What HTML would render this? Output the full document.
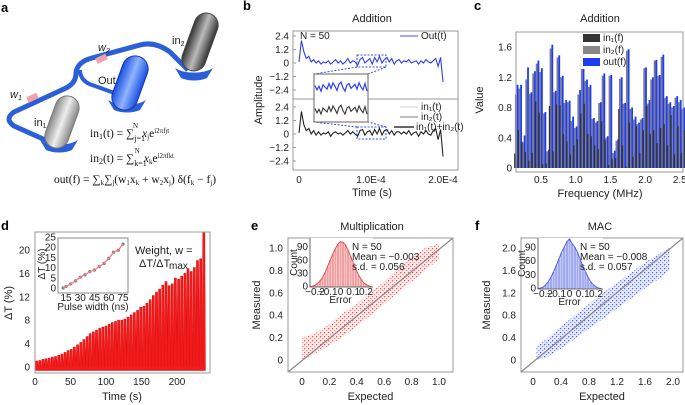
<!DOCTYPE html>
<html><head><meta charset="utf-8"><style>
html,body{margin:0;padding:0;background:#fff}
svg{display:block;font-family:"Liberation Sans",sans-serif}
.t{font-size:10px;fill:#222}
.lab{font-size:11px;fill:#222}
.pl{font-size:13px;font-weight:bold;fill:#000}
.eq{font-family:"Liberation Serif",serif;font-size:11.5px;fill:#111}
</style></head><body>
<svg id="fig" width="685" height="405" viewBox="0 0 685 405">
<defs>
<linearGradient id="gGray" x1="0" x2="1"><stop offset="0" stop-color="#888"/><stop offset="0.5" stop-color="#eee"/><stop offset="1" stop-color="#888"/></linearGradient>
<linearGradient id="gDark" x1="0" x2="1"><stop offset="0" stop-color="#333"/><stop offset="0.5" stop-color="#bbb"/><stop offset="1" stop-color="#333"/></linearGradient>
<linearGradient id="gBlue" x1="0" x2="1"><stop offset="0" stop-color="#1a4fe0"/><stop offset="0.5" stop-color="#8fb4ff"/><stop offset="1" stop-color="#1a4fe0"/></linearGradient>
<pattern id="dotR" width="4" height="4" patternUnits="userSpaceOnUse"><rect width="4" height="4" fill="#fde4e4"/><rect x="0" y="0" width="1.2" height="1.2" fill="#f03030"/><rect x="2.2" y="2" width="1" height="1" fill="#f55"/></pattern>
<pattern id="dotB" width="4" height="4" patternUnits="userSpaceOnUse"><rect width="4" height="4" fill="#dfe4fd"/><rect x="0" y="0" width="1.2" height="1.2" fill="#2a45e8"/><rect x="2.2" y="2" width="1" height="1" fill="#4a60f0"/></pattern>
</defs>

<g>
<text class="pl" x="1" y="12">a</text>
<path d="M52,143 L14,126 Q4,119 14,112 L66,88 Q76,83 76,73 Q77,62 92,58 L140,45 Q155,41 170,52 L188,70" fill="none" stroke="#2b5fd9" stroke-width="5"/>
<path d="M80,70 Q80,82 95,86 L120,95" fill="none" stroke="#2b5fd9" stroke-width="4"/>
<rect x="27" y="95" width="11" height="6" fill="#f3a0a8" transform="rotate(-25 32 98)"/>
<rect x="96" y="56" width="11" height="6" fill="#f3a0a8" transform="rotate(-25 101 59)"/>
<text x="10" y="98" class="lab" font-style="italic">w<tspan font-size="7" dy="2">1</tspan></text>
<text x="98" y="51" class="lab" font-style="italic">w<tspan font-size="7" dy="2">2</tspan></text>
<path d="M40,140 A24,12 0 0 0 78,140 L72,150 A18,8 0 0 1 46,150 Z" fill="#2b5fd9"/>
<path d="M108,100 A24,12 0 0 0 146,100 L140,110 A18,8 0 0 1 114,110 Z" fill="#2b5fd9"/>
<path d="M175,68 A24,12 0 0 0 213,68 L207,78 A18,8 0 0 1 181,78 Z" fill="#2b5fd9"/>
<rect x="50" y="95" width="24" height="54" rx="12" fill="url(#gGray)" stroke="#777" transform="rotate(20 62 122)"/>
<rect x="117" y="55" width="26" height="56" rx="13" fill="url(#gBlue)" stroke="#1536b0" transform="rotate(20 130 83)"/>
<rect x="188" y="12" width="24" height="60" rx="12" fill="url(#gDark)" stroke="#444" transform="rotate(20 200 42)"/>
<text x="34" y="126" class="lab">in<tspan font-size="7" dy="2">1</tspan></text>
<text x="98" y="84" class="lab">Out</text>
<text x="172" y="44" class="lab">in<tspan font-size="7" dy="2">2</tspan></text>
<text class="eq" x="90" y="137">in<tspan font-size="8" dy="2">1</tspan><tspan dy="-2">(t) = ∑</tspan><tspan font-size="8" dy="4">j=1</tspan><tspan font-size="7" dx="-12" dy="-13">N</tspan><tspan font-style="italic" dy="9" dx="4">x</tspan><tspan font-size="7" dy="2">j</tspan><tspan dy="-2">e</tspan><tspan font-size="7" dy="-4">i2πf<tspan font-size="6">j</tspan>t</tspan></text>
<text class="eq" x="90" y="162">in<tspan font-size="8" dy="2">2</tspan><tspan dy="-2">(t) = ∑</tspan><tspan font-size="8" dy="4">k=1</tspan><tspan font-size="7" dx="-12" dy="-13">N</tspan><tspan font-style="italic" dy="9" dx="4">x</tspan><tspan font-size="7" dy="2">k</tspan><tspan dy="-2">e</tspan><tspan font-size="7" dy="-4">i2πf<tspan font-size="6">k</tspan>t</tspan></text>
<text class="eq" x="54" y="183">out(f) = ∑<tspan font-size="7" dy="2">k</tspan><tspan dy="-2">∑</tspan><tspan font-size="7" dy="2">j</tspan><tspan dy="-2">(w</tspan><tspan font-size="7" dy="2">1</tspan><tspan dy="-2">x</tspan><tspan font-size="7" dy="2">k</tspan><tspan dy="-2"> + w</tspan><tspan font-size="7" dy="2">2</tspan><tspan dy="-2">x</tspan><tspan font-size="7" dy="2">j</tspan><tspan dy="-2">) δ(f</tspan><tspan font-size="7" dy="2">k</tspan><tspan dy="-2"> − f</tspan><tspan font-size="7" dy="2">j</tspan><tspan dy="-2">)</tspan></text>
</g>
<g id="charts"></g>
</svg>
<script>
// ---- Panel b data ----
const bOutT = [0.1,2.0,1.0,0.4,0.6,0.1,0.3,0.0,0.2,-0.1,0.1,0.0,0.2,-0.1,0.1,0.3,0.0,0.2,-0.1,0.1,0.4,0.0,0.2,0.1,-0.2,0.3,0.5,0.0,0.2,0.4,-0.1,0.5,0.1,0.6,0.0,0.3,0.5,0.1,0.4,-0.1,0.2,0.3,0.0,0.2,0.1,0.3,0.0,0.1,0.2,-0.1,0.2,0.0,0.3,0.1,0.0,0.2,0.4,-0.3,0.5,-1.7];
const bSumT = [0.1,2.0,0.8,0.3,0.5,0.0,0.3,-0.1,0.2,-0.1,0.1,0.0,0.2,-0.2,0.1,0.2,0.0,0.1,-0.1,0.1,0.3,0.0,0.2,0.0,-0.2,0.3,0.4,-0.1,0.2,0.3,-0.1,0.4,0.0,0.5,-0.1,0.3,0.4,0.0,0.3,-0.1,0.2,0.2,0.0,0.2,0.0,0.3,-0.1,0.1,0.2,-0.2,0.2,0.0,0.3,0.0,-0.1,0.3,0.5,-0.5,0.4,-2.0];
const bZoom = [0.2,-0.4,0.1,-0.6,0.3,0.0,-0.3,0.5,-0.2,0.6,0.1,-0.5,0.4,0.7,-0.1,-0.6,0.3,0.5,-0.2,0.1,0.4,-0.3,0.6,0.0,-0.4,0.5,-0.6];
const bXTicks = [0,1e-4,2e-4];
const bXTickLabels = ["0","1.0E-4","2.0E-4"];
const bYTicks = [2.4,1.2,0,-1.2,-2.4];
// ---- Panel c data ----
const cFreq = [0.15,0.2,0.25,0.3,0.35,0.4,0.45,0.5,0.55,0.6,0.65,0.7,0.75,0.8,0.85,0.9,0.95,1.0,1.05,1.1,1.15,1.2,1.25,1.3,1.35,1.4,1.45,1.5,1.55,1.6,1.65,1.7,1.75,1.8,1.85,1.9,1.95,2.0,2.05,2.1,2.15,2.2,2.25,2.3,2.35,2.4,2.45,2.5,2.55,2.6];
const cOut = [1.1,1.1,0.43,1.33,1.0,1.28,1.42,1.32,0.74,0.24,1.63,1.02,1.49,1.22,0.9,0.89,0.68,0.55,1.03,1.5,1.17,1.1,0.66,0.62,0.87,1.25,0.42,1.23,0.23,0.38,1.2,0.86,1.57,0.8,0.68,0.6,0.66,1.33,0.9,1.2,1.43,1.23,1.5,0.95,0.87,0.82,0.95,0.9,0.8,0.95];
const cIn1 = [0.19,0.5,0.35,0.21,0.1,0.2,0.88,0.73,0.05,0.06,0.82,0.22,0.84,0.83,0.45,0.35,0.18,0.3,0.38,0.72,0.85,0.45,0.42,0.3,0.25,0.62,0.37,0.04,0.12,0.13,0.78,0.3,0.02,0.6,0.15,0.55,0.2,0.5,0.82,0.45,0.5,0.33,0.53,0.58,0.3,0.7,0.18,0.55,0.2,0.5];
const cIn2 = [0.97,1.05,0.34,1.17,0.98,1.25,1.38,1.27,0.72,0.22,1.58,1.0,1.46,1.2,0.86,0.87,0.62,0.53,0.97,1.48,1.15,1.07,0.65,0.6,0.86,1.22,0.4,1.22,0.2,0.36,1.18,0.85,1.55,0.78,0.64,0.58,0.64,1.32,0.85,1.17,1.42,1.22,1.47,0.93,0.85,0.8,0.93,0.87,0.78,0.92];
const cXTicks = [0.5,1.0,1.5,2.0,2.5];
const cYTicks = [0,0.4,0.8,1.2,1.6];
// ---- Panel d data ----
const dPeaks = [1.0,1.1,1.3,1.4,1.5,1.7,1.8,2.0,2.2,2.5,2.8,3.0,3.4,3.8,4.2,4.7,5.2,5.7,6.0,6.3,6.6,6.8,7.0,7.3,7.6,7.8,8.0,8.0,8.2,8.5,8.9,9.3,9.7,10.2,10.4,10.9,11.5,12.2,12.8,13.3,14.0,14.6,13.9,14.2,15.2,15.0,15.5,16.0,16.8,16.3,17.0,18.2,18.5,23.0];
const dPulseX = [12,15,20,25,30,35,40,45,50,55,60,65,70,75];
const dPulseY = [0.5,1.2,2.5,4.0,5.8,7.0,8.5,9.3,11.0,12.5,15.0,18.0,19.0,22.0];
const dXTicks = [0,50,100,150,200];
const dYTicks = [0,4,8,12,16,20];
// ---- Panel e/f data ----
const eEnvX = [0,0.1,0.2,0.3,0.4,0.5,0.6,0.7,0.8,0.9,1.0];
const eLow = [0.0,0.06,0.13,0.21,0.3,0.4,0.5,0.6,0.7,0.8,0.9];
const eHigh = [0.2,0.24,0.32,0.42,0.5,0.6,0.7,0.82,0.92,1.0,1.04];
const eHist = [1,2,4,8,14,22,34,48,62,76,88,98,104,102,96,84,70,55,40,28,18,10,6,3,1];
const fEnvX = [0.05,0.2,0.4,0.6,0.8,1.0,1.2,1.4,1.6,1.8,1.95];
const fLow = [0.0,0.05,0.2,0.38,0.56,0.74,0.92,1.1,1.28,1.45,1.6];
const fHigh = [0.25,0.38,0.6,0.8,1.0,1.2,1.38,1.56,1.74,1.9,2.0];
const fHist = [1,2,4,9,16,26,38,52,66,80,92,104,110,100,92,80,66,50,38,26,16,9,5,2,1];
const eTicks = [0,0.2,0.4,0.6,0.8,1.0];
const fTicks = [0,0.4,0.8,1.2,1.6,2.0];
const histX = [-0.2,-0.1,0,0.1,0.2];
const histY = [0,30,60,90];

const NS='http://www.w3.org/2000/svg';
const root=document.getElementById('charts');
function mk(tag,at,par){const e=document.createElementNS(NS,tag);for(const k in at)e.setAttribute(k,at[k]);(par||root).appendChild(e);return e;}
function lin(d0,d1,r0,r1){return v=>r0+(v-d0)*(r1-r0)/(d1-d0);}
function txt(x,y,s,cls,anchor,par){const e=mk('text',{x:x,y:y,class:cls||'t','text-anchor':anchor||'middle'},par);e.textContent=s;return e;}

function frame(x0,y0,x1,y1,name){const r=mk('rect',{x:x0,y:y0,width:x1-x0,height:y1-y0,fill:'none',stroke:'#999','stroke-width':1});

}

// ===== Panel b =====
(function(){
const L=293,R=458;
const x=lin(0,2e-4,299,443);
const yT=lin(0,2.4,63,36), yB=lin(0,2.4,134,107);
let e=txt(243,10,'b','pl','start');


e=txt(372,22,'Addition','lab');


frame(L,31,R,170,'b-frame');
e=mk('line',{x1:L,x2:R,y1:99,y2:99,stroke:'#999'});


bYTicks.forEach(v=>{[yT,yB].forEach((y,i)=>{
 const t=txt(L-4,y(v)+3.5,(v>0?v.toFixed(1):v===0?'0':'−'+(-v).toFixed(1)),'t','end');
 
 
 const k=mk('line',{x1:L,x2:L+3,y1:y(v),y2:y(v),stroke:'#999'});
 
 });});
bXTicks.forEach((v,i)=>{const t=txt(x(v),183,bXTickLabels[i]);
 
 });
e=txt(372,196,'Time (s)','lab');


e=txt(0,0,'Amplitude','lab');e.setAttribute('transform','translate(262,100) rotate(-90)');


e=txt(300,39,'N = 50','t','start');e.setAttribute('font-size','8');


const n=bOutT.length;
let p=bOutT.map((v,i)=>(i?'L':'M')+x(i*2e-4/(n-1)).toFixed(1)+','+yT(v).toFixed(1)).join('');
e=mk('path',{d:p,fill:'none',stroke:'#2f3ff0','stroke-width':1.1});


p=bSumT.map((v,i)=>(i?'L':'M')+x(i*2e-4/(n-1)).toFixed(1)+','+yB(v).toFixed(1)).join('');
e=mk('path',{d:p,fill:'none',stroke:'#222','stroke-width':1.1});


[[55,67],[127,139]].forEach(b=>{const r=mk('rect',{x:357,y:b[0],width:29,height:b[1]-b[0],fill:'none',stroke:'#3050f0','stroke-dasharray':'2,1.5'});
 
 });
e=mk('path',{d:'M357,67 L314,74 M386,67 L368,74 M357,127 L314,122 M386,127 L368,122',stroke:'#3050f0','stroke-dasharray':'2,1.5',fill:'none'});


e=mk('rect',{x:314,y:74,width:54,height:48,fill:'#fff',stroke:'#666'});


const zx=lin(0,bZoom.length-1,315,367);
const zy1=lin(0,1,87,80), zy2=lin(0,1,110,103);
p=bZoom.map((v,i)=>(i?'L':'M')+zx(i).toFixed(1)+','+zy1(v).toFixed(1)).join('');
e=mk('path',{d:p,fill:'none',stroke:'#2f3ff0','stroke-width':1.2});


p=bZoom.map((v,i)=>(i?'L':'M')+zx(i).toFixed(1)+','+zy2(v*0.9).toFixed(1)).join('');
e=mk('path',{d:p,fill:'none',stroke:'#bbb','stroke-width':1.2});


p=bZoom.map((v,i)=>(i?'L':'M')+zx(i).toFixed(1)+','+zy2(v).toFixed(1)).join('');
e=mk('path',{d:p,fill:'none',stroke:'#333','stroke-width':1});


const lg=[[36,'#7a8cff','Out(t)'],[107,'#e0e0e0','in₁(t)'],[117,'#aaa','in₂(t)'],[127,'#333','in₁(t)+in₂(t)']];
lg.forEach(g=>{const l=mk('line',{x1:g[2].length>7?394:400,x2:g[2].length>7?414:418,y1:g[0],y2:g[0],stroke:g[1],'stroke-width':1.5});
 
 
 const t=txt(g[2].length>7?416:421,g[0]+3,g[2],'t','start');t.setAttribute('font-size','8');t.setAttribute('fill',g[2]==='Out(t)'?'#5a6cff':'#777');
 
 });
})();

// ===== Panel c =====
(function(){
const L=516,R=683,T=32,B=172;
const x=lin(0,0.5,506.3,541), y=lin(0,1.6,168,47);
let e=txt(474,10,'c','pl','start');


e=txt(600,22,'Addition','lab');


cFreq.forEach((f,i)=>{const cx=x(f);
 let r=mk('rect',{x:cx-1.8,y:y(cIn2[i]),width:1.8,height:y(0)-y(cIn2[i]),fill:'#7a7a90'});
 
 
 r=mk('rect',{x:cx-2.6,y:y(cIn1[i]),width:1.4,height:y(0)-y(cIn1[i]),fill:'#333'});
 
 
 r=mk('rect',{x:cx,y:y(cOut[i]),width:1.8,height:y(0)-y(cOut[i]),fill:'#1c3cf5'});
 
 });
frame(L,T,R,B,'c-frame');
cYTicks.forEach(v=>{const t=txt(L-4,y(v)+3.5,v===0?'0':v.toFixed(1),'t','end');
 
 });
cXTicks.forEach(v=>{const t=txt(x(v),183,v.toFixed(1));
 
 });
e=txt(600,197,'Frequency (MHz)','lab');


e=txt(0,0,'Value','lab');e.setAttribute('transform','translate(483,100) rotate(-90)');


e=mk('rect',{x:581,y:33,width:40,height:36,fill:'#fff'});


[[38,'#333','in₁(f)'],[50,'#888','in₂(f)'],[62,'#1c3cf5','out(f)']].forEach(g=>{
 const r=mk('rect',{x:583,y:g[0]-4,width:17,height:8,fill:g[1]});
 
 
 const t=txt(603,g[0]+3,g[2],'t','start');t.setAttribute('font-size','7');
 
 });
})();

// ===== Panel d =====
(function(){
const L=35,R=210,T=232,B=373;
const x=lin(0,200,35,177), y=lin(0,20,367,250);
let e=txt(1,230,'d','pl','start');


const step=240/(dPeaks.length);
dPeaks.forEach((v,i)=>{const t0=i*step, xm=x(t0+step*0.5);
 const p='M'+x(t0).toFixed(1)+','+y(-0.6)+' L'+(xm-1).toFixed(1)+','+y(v).toFixed(1)+' L'+(xm+1).toFixed(1)+','+y(v).toFixed(1)+' L'+x(t0+step).toFixed(1)+','+y(-0.6)+' Z';
 const s=mk('path',{d:p,fill:'#f21c1c',stroke:'#e01010','stroke-width':0.6});
 
 });
e=mk('rect',{x:L,y:y(0.1),width:x(240)-L,height:y(-0.6)-y(0.1),fill:'#f21c1c'});


frame(L,T,R,B,'d-frame');
dYTicks.forEach(v=>{const t=txt(L-5,y(v)+3.5,String(v),'t','end');
 
 });
dXTicks.forEach(v=>{const t=txt(x(v),385,String(v));
 
 });
e=txt(122,400,'Time (s)','lab');


e=txt(0,0,'ΔT (%)','lab');e.setAttribute('transform','translate(12,303) rotate(-90)');


e=txt(135,254,'Weight, w =','lab','start');e.setAttribute('font-size','9.5');


e=txt(139,267,'ΔT/ΔT','lab','start');e.setAttribute('font-size','9.5');


e=txt(169,269,'max','t','start');e.setAttribute('font-size','6');


const ix=lin(15,75,66,123), iy=lin(0,25,289,238);
e=mk('rect',{x:58,y:238,width:70,height:55,fill:'#fff',stroke:'#888'});


dPulseX.forEach((v,i)=>{const c=mk('circle',{cx:ix(v),cy:iy(dPulseY[i]),r:1.6,fill:'#555',opacity:0.8});
 
 });
const p=dPulseX.map((v,i)=>(i?'L':'M')+ix(v).toFixed(1)+','+iy(dPulseY[i]).toFixed(1)).join('');
e=mk('path',{d:p,fill:'none',stroke:'#f28080','stroke-width':1.4});


[0,5,10,15,20,25].forEach(v=>{const t=txt(56,iy(v)+2.5,String(v),'t','end');t.setAttribute('font-size','7');
 
 });
[15,30,45,60,75].forEach(v=>{const t=txt(ix(v),301,String(v));t.setAttribute('font-size','7');
 
 });
e=txt(93,310,'Pulse width (ns)','t');e.setAttribute('font-size','7');


e=txt(0,0,'ΔT (%)','t');e.setAttribute('font-size','6.5');e.setAttribute('transform','translate(45,264) rotate(-90)');


})();

// ===== Scatter panels =====
function scatter(o){
 const x=lin(0,o.max,o.x0,o.x1), y=lin(0,o.max,360,248);
 let e=txt(o.lx,230,o.letter,'pl','start');
 
 
 e=txt(o.tx,230,o.title,'lab');
 
 
 const pts=o.envX.map((v,i)=>x(v).toFixed(1)+','+y(o.hi[i]).toFixed(1)).concat(o.envX.slice().reverse().map((v,j)=>{const i=o.envX.length-1-j;return x(v).toFixed(1)+','+y(o.lo[i]).toFixed(1);}));
 e=mk('polygon',{points:pts.join(' '),fill:o.pat,opacity:0.85});
 
 
 e=mk('line',{x1:o.L,y1:372,x2:o.R,y2:238,stroke:'#888','stroke-width':1.2});
 
 
 frame(o.L,238,o.R,372,o.letter+'-frame');
 o.ticks.forEach(v=>{let t=txt(o.L-5,y(v)+3.5,v===0?'0':v.toFixed(1),'t','end');
  
  
  t=txt(x(v),385,v===0?'0':v.toFixed(1));
  
  });
 e=txt((o.L+o.R)/2,400,'Expected','lab');
 
 
 e=txt(0,0,'Measured','lab');e.setAttribute('transform','translate('+o.yl+',305) rotate(-90)');
 
 
 const hx=lin(-0.2,0.2,o.h0,o.h1), hy=lin(0,110,o.hb,239);
 e=mk('rect',{x:o.h0-5,y:238,width:o.h1-o.h0+12,height:o.hb-238,fill:'#fff'});
 
 
 const n=o.hist.length, bw=(hx(0.25)-hx(-0.25))/n;
 o.hist.forEach((c,i)=>{const bx=hx(-0.25)+i*bw;
  const r=mk('rect',{x:bx,y:hy(c),width:bw,height:o.hb-hy(c),fill:o.hc,stroke:'#fff','stroke-width':0.3});
  
  });
 const p=o.hist.map((c,i)=>(i?'L':'M')+(hx(-0.25)+(i+0.5)*bw).toFixed(1)+','+hy(c).toFixed(1)).join('');
 e=mk('path',{d:p,fill:'none',stroke:o.lc,'stroke-width':1});
 
 
 e=mk('path',{d:'M'+(o.h0-5)+',238 V'+o.hb+' H'+(o.h1+7),fill:'none',stroke:'#444','stroke-width':0.8});
 
 
 histX.forEach(v=>{const t=txt(hx(v),o.hb+8,v===0?'0':(v<0?'−':'')+Math.abs(v).toFixed(1),'t');t.setAttribute('font-size','6.5');
  
  });
 histY.forEach(v=>{const t=txt(o.h0-7,hy(v)+2.5,String(v),'t','end');t.setAttribute('font-size','6.5');
  
  });
 e=txt((o.h0+o.h1)/2,o.hb+16,'Error','t');e.setAttribute('font-size','7');
 
 
 e=txt(0,0,'Count','t');e.setAttribute('font-size','7');e.setAttribute('transform','translate('+(o.h0-18)+','+((238+o.hb)/2)+') rotate(-90)');
 
 
 o.stats.forEach((s,i)=>{const t=txt(o.sx,250+i*10,s,'t','start');t.setAttribute('font-size','8');
  
  });
}
scatter({letter:'e',title:'Multiplication',lx:251,tx:372,max:1.0,x0:302,x1:439,L:288,R:453,envX:eEnvX,lo:eLow,hi:eHigh,pat:'url(#dotR)',ticks:eTicks,yl:260,hist:eHist,h0:315,h1:366,hb:287,hc:'#f0a0a0',lc:'#e05050',sx:352,stats:['N = 50','Mean = −0.003','s.d. = 0.056']});
scatter({letter:'f',title:'MAC',lx:475,tx:600,max:2.0,x0:533,x1:673,L:521,R:683,envX:fEnvX,lo:fLow,hi:fHigh,pat:'url(#dotB)',ticks:fTicks,yl:490,hist:fHist,h0:543,h1:596,hb:289,hc:'#a0a8f0',lc:'#5060e0',sx:580,stats:['N = 50','Mean = −0.008','s.d. = 0.057']});
</script>
</body></html>
